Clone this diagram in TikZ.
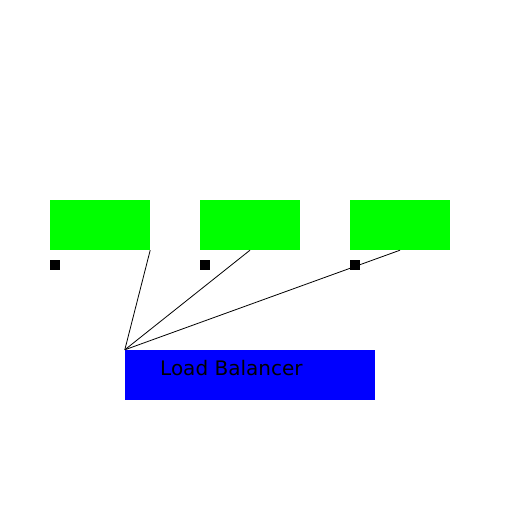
\documentclass[tikz,border=0pt]{standalone}
\usepackage{fontspec}
\setmainfont{DejaVu Sans}
\usetikzlibrary{positioning}
\tikzstyle{server} = [rectangle, minimum width=100pt, minimum height=50pt, inner sep=0pt, fill={rgb,255:red,0;green,255;blue,0}]
\tikzstyle{marker} = [rectangle, minimum width=10pt, minimum height=10pt, inner sep=0pt, fill=black]
\tikzstyle{balancer} = [rectangle, minimum width=250pt, minimum height=50pt, inner sep=0pt, fill={rgb,255:red,0;green,0;blue,255}]
\tikzstyle{link} = [black, line width=0.8pt]

\begin{document}
\begin{tikzpicture}[x=1pt,y=-1pt]
\useasboundingbox (0,0) rectangle (512,512);
\node[server] (srvA) at (100,225) {};
\node[server] (srvB) at (250,225) {};
\node[server] (srvC) at (400,225) {};
\node[marker] (mkA) at (55,265) {};
\node[marker] (mkB) at (205,265) {};
\node[marker] (mkC) at (355,265) {};
\node[balancer] (lb) at (250,375) {};
\node[anchor=base west, inner sep=0pt, font=\fontsize{20pt}{24pt}\selectfont] (lbtext) at (160,375) {Load Balancer};
\draw[link] (lb.north west) -- (srvA.south east);
\draw[link] (lb.north west) -- (srvB.south);
\draw[link] (lb.north west) -- (srvC.south);
\end{tikzpicture}
\end{document}
